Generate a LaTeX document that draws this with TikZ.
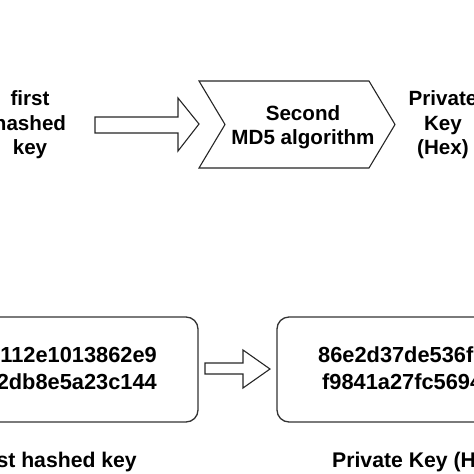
\documentclass[tikz,border=0pt]{standalone}
\usepackage{fontspec}
\setmainfont{Liberation Sans}
\usepackage{tikz}
\usetikzlibrary{positioning, calc}

\tikzset{
  lbl/.style={font=\fontsize{20.6}{24.5}\selectfont\bfseries, align=center, inner sep=0pt},
  hexlbl/.style={font=\fontsize{21.8}{27}\selectfont\bfseries, inner sep=0pt},
  caplbl/.style={font=\fontsize{21.2}{25}\selectfont\bfseries, inner sep=0pt},
  blockarrow/.style={draw=black!85, line width=1.1pt, fill=white, line join=miter},
  keybox/.style={draw=black!80, line width=1.3pt, rounded corners=12pt}
}

\begin{document}
\begin{tikzpicture}[x=1pt, y=-1pt]
  \useasboundingbox (0,0) rectangle (474,474);
  \clip (0,0) rectangle (474,474);

  % Top row: input, algorithm, output
  \node[lbl] (firstkey) at (30,125) {first\\hashed\\key};

  \draw[blockarrow] (95,117) -- (178,117) -- (178,98) -- (199,124) -- (178,151) -- (178,133) -- (95,133) -- cycle;

  \draw[blockarrow] (199,81) -- (369,81) -- (395,124.5) -- (369,168) -- (199,168) -- (225,124.5) -- cycle;
  \node[lbl] (md5) at (303,127) {Second\\MD5 algorithm};

  \node[lbl] (privkey) at (443,125) {Private\\Key\\(Hex)};

  % Bottom row: hash values
  \draw[keybox] (-60,317) rectangle (198,422);
  \node[hexlbl, align=right, anchor=east] (hexin) at (157,368) {d112e1013862e9\\2db8e5a23c144};

  \draw[blockarrow] (205,363) -- (243,363) -- (243,350) -- (270,369) -- (243,388) -- (243,374) -- (205,374) -- cycle;

  \draw[keybox] (277,317) rectangle (540,422);
  \node[hexlbl, align=left, anchor=west] (hexout) at (318,368) {86e2d37de536f\\\hspace*{4pt}f9841a27fc5694};

  % Captions
  \node[caplbl, anchor=east] (capin) at (137,462) {first hashed key};
  \node[caplbl, anchor=west] (capout) at (332,462) {Private Key (Hex)};
\end{tikzpicture}
\end{document}
